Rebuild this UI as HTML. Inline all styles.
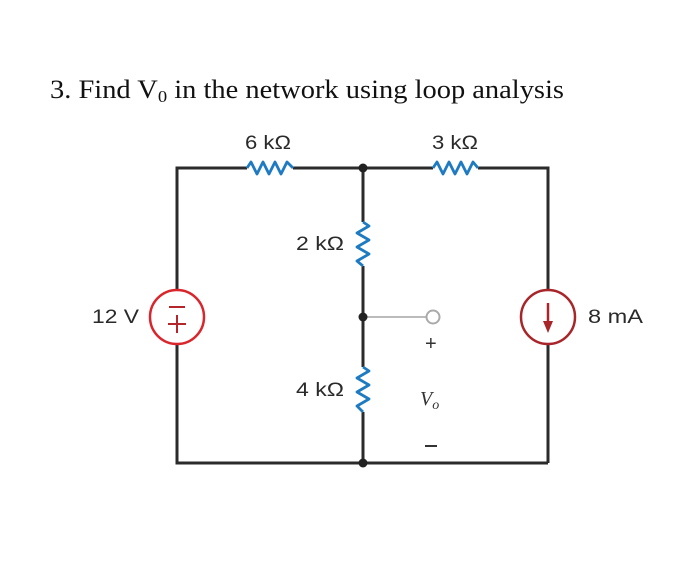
<!DOCTYPE html>
<html><head><meta charset="utf-8"><style>
html,body{margin:0;padding:0;background:#fff;}
svg{display:block;}
</style></head><body>
<svg width="700" height="579" viewBox="0 0 700 579" xmlns="http://www.w3.org/2000/svg">
<text x="50" y="98" font-family="Liberation Serif, serif" font-size="26" fill="#111" textLength="514" lengthAdjust="spacingAndGlyphs">3. Find V<tspan font-size="17" dy="4">0</tspan><tspan dy="-4"> in the network using loop analysis</tspan></text>
<g stroke="#2b2b2b" stroke-width="3" fill="none">
<polyline points="177,289 177,168 247,168"/>
<line x1="293" y1="168" x2="433" y2="168"/>
<polyline points="478,168 548,168 548,289"/>
<line x1="548" y1="345" x2="548" y2="463"/>
<polyline points="177,345 177,463 548,463"/>
<line x1="363" y1="168" x2="363" y2="222"/>
<line x1="363" y1="266" x2="363" y2="367"/>
<line x1="363" y1="412" x2="363" y2="463"/>
</g>
<g stroke="#1f7bc1" stroke-width="2.8" fill="none" stroke-linejoin="round">
<polyline points="247,168 251,162 257,174 263,162 269,174 275,162 281,174 287,162 293,168"/>
<polyline points="433,168 437,162 443,174 449,162 455,174 461,162 467,174 473,162 478,168"/>
<polyline points="363,222 369,226 357,233 369,240 357,247 369,254 357,261 363,266"/>
<polyline points="363,367 369,371 357,378 369,385 357,392 369,399 357,406 363,412"/>
</g>
<line x1="363" y1="317" x2="426" y2="317" stroke="#bbb" stroke-width="2"/>
<circle cx="433" cy="317" r="6.5" fill="#fff" stroke="#aaa" stroke-width="2"/>
<g fill="#222"><circle cx="363" cy="168" r="4.5"/><circle cx="363" cy="317" r="4.5"/><circle cx="363" cy="463" r="4.5"/></g>
<circle cx="177" cy="317" r="27" fill="#fff" stroke="#d9262c" stroke-width="2.5"/>
<line x1="169" y1="307" x2="185" y2="307" stroke="#b5262a" stroke-width="2"/>
<line x1="168" y1="324" x2="186" y2="324" stroke="#b5262a" stroke-width="2"/>
<line x1="177" y1="315" x2="177" y2="333" stroke="#b5262a" stroke-width="2"/>
<circle cx="548" cy="317" r="27" fill="#fff" stroke="#a8262a" stroke-width="2.5"/>
<line x1="548" y1="303" x2="548" y2="324" stroke="#a8262a" stroke-width="2.5"/>
<polygon points="543,321 553,321 548,333" fill="#a8262a"/>
<g font-family="Liberation Sans, sans-serif" font-size="19" fill="#2a2a2a">
<text x="245" y="149" textLength="46" lengthAdjust="spacingAndGlyphs">6 kΩ</text>
<text x="432" y="149" textLength="46" lengthAdjust="spacingAndGlyphs">3 kΩ</text>
<text x="296" y="250" textLength="48" lengthAdjust="spacingAndGlyphs">2 kΩ</text>
<text x="296" y="396" textLength="48" lengthAdjust="spacingAndGlyphs">4 kΩ</text>
<text x="92" y="323" textLength="47" lengthAdjust="spacingAndGlyphs">12 V</text>
<text x="588" y="323" textLength="55" lengthAdjust="spacingAndGlyphs">8 mA</text>
</g>
<text x="425" y="350" font-family="Liberation Sans, sans-serif" font-size="20" fill="#333">+</text>
<text x="420" y="405" font-family="Liberation Serif, serif" font-style="italic" font-size="20" fill="#333">V<tspan font-size="14" dy="4">o</tspan></text>
<line x1="425" y1="446" x2="437" y2="446" stroke="#333" stroke-width="2"/>
</svg>
</body></html>
